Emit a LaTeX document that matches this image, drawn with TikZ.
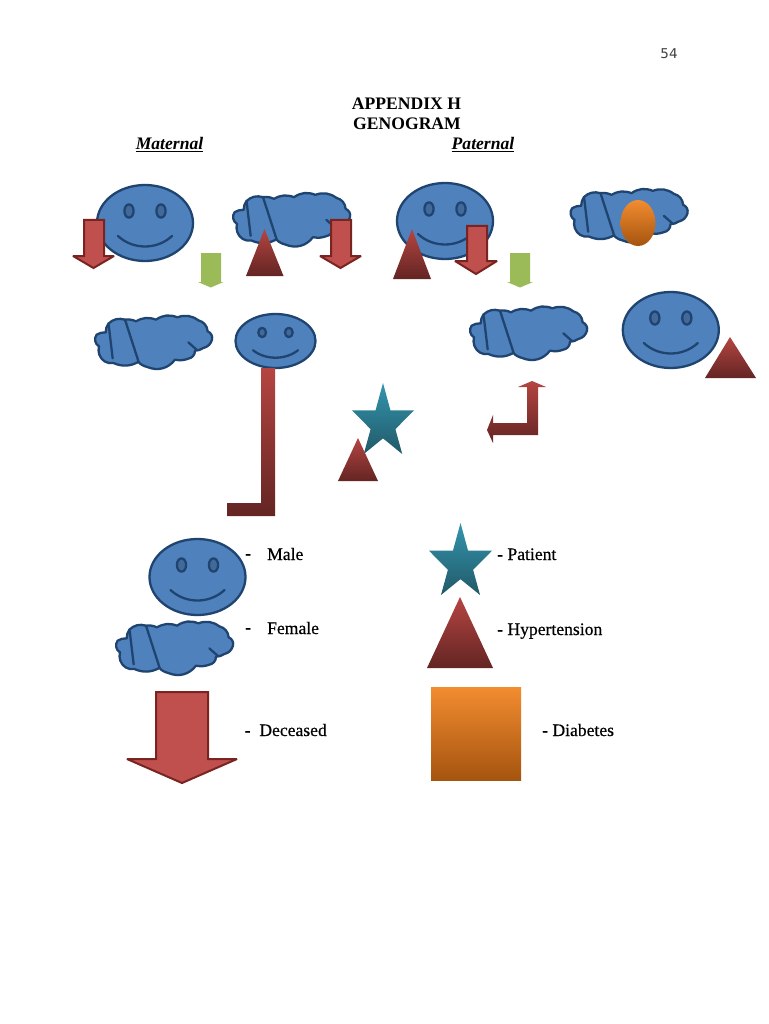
\documentclass[tikz,border=0pt]{standalone}
\usepackage{fontspec}
\setmainfont{Liberation Serif}
\newfontfamily\numfont{DejaVu Sans}
\newfontfamily\lblfont[FakeBold=0.5]{Liberation Serif}
\definecolor{faceblue}{HTML}{4F81BD}
\definecolor{edgeblue}{HTML}{1F4470}
\definecolor{eyeblue}{HTML}{41699A}
\definecolor{redfill}{HTML}{C0504D}
\definecolor{rededge}{HTML}{7A2422}
\definecolor{greenfill}{HTML}{9BBB59}
\definecolor{tritop}{HTML}{B54542}
\definecolor{tribot}{HTML}{632523}
\definecolor{startop}{HTML}{3495AE}
\definecolor{starbot}{HTML}{215968}
\definecolor{ortop}{HTML}{F28C30}
\definecolor{orbot}{HTML}{A5540F}
\tikzset{
  blueshape/.style={fill=faceblue,draw=edgeblue,line width=2.3pt,line join=round},
  blueline/.style={draw=edgeblue,line width=2.3pt,line cap=round},
  redarrow/.style={fill=redfill,draw=rededge,line width=2pt,line join=miter,miter limit=2},
  greenarrow/.style={fill=greenfill},
  tri/.style={top color=tritop,bottom color=tribot,draw=none},
  starshape/.style={top color=startop,bottom color=starbot,draw=none},
  orangeshape/.style={top color=ortop,bottom color=orbot,draw=none},
  txt/.style={font=\lblfont\fontsize{17.6}{20}\selectfont,anchor=base west,inner sep=0pt},
  title/.style={font=\bfseries\fontsize{17.6}{20}\selectfont,anchor=base,inner sep=0pt},
  side/.style={font=\bfseries\itshape\fontsize{17.6}{20}\selectfont,anchor=base,inner sep=0pt}
}
% centre x, centre y, half width, half height
\newcommand{\faceshape}[4]{%
  \begin{scope}[shift={(#1,#2)},xscale=#3/48,yscale=#4/38]
    \draw[blueshape] (0,0) ellipse [x radius=48,y radius=38];
    \draw[blueshape,fill=eyeblue] (-16,-12) ellipse [x radius=4.6,y radius=6.6];
    \draw[blueshape,fill=eyeblue] (16,-12) ellipse [x radius=4.6,y radius=6.6];
    \draw[blueline] (-27,13) .. controls (-12,27) and (12,27) .. (27,13);
  \end{scope}}
% left x, top y
\newcommand{\cloudshape}[2]{%
  \begin{scope}[shift={(#1,#2)},x=.3333pt,y=-.3333pt,shift={(-105,-430)}]
    \draw[blueshape] (145,462) to[bend left=30] (195,450) to[bend left=15] (228,455)
      to[bend left=25] (288,450) to[bend left=28] (352,443) to[bend left=28] (415,452)
      to[bend left=35] (443,485) to[bend left=40] (456,510) to[bend left=30] (430,535)
      to[bend left=15] (405,543) to[bend left=40] (385,567) to[bend left=15] (345,570)
      to[bend left=38] (262,592) to[bend left=15] (235,577) to[bend left=25] (160,580)
      to[bend left=40] (118,555) to[bend left=15] (117,530) to[bend left=50] (110,495)
      to[bend left=15] (137,488) to[bend left=15] cycle;
    \draw[blueline] (146,465) -- (158,566);
    \draw[blueline] (195,450) -- (236,577);
    \draw[blueline] (385,518) -- (412,542);
  \end{scope}}
% shaft left, shaft right, head left, head right, top, head start, tip
\newcommand{\downarrowshape}[8]{%
  \path[#8] (#1,#5) -- (#2,#5) -- (#2,#6) -- (#4,#6) -- ({(#3+#4)/2},#7) -- (#3,#6) -- (#1,#6) -- cycle;}
% apex x, apex y, base left, base right, base y
\newcommand{\trishape}[5]{%
  \path[tri] (#1,#2) -- (#4,#5) -- (#3,#5) -- cycle;}
% left, right, top, bottom
\newcommand{\starpic}[4]{%
  \begin{scope}[shift={(#1,#3)},x={(#2pt-#1pt,0)},y={(0,#3pt-#4pt)}]
    \path[starshape] (.5,0) -- (.62,.385) -- (1,.385) -- (.70,.65) -- (.81,1)
      -- (.5,.78) -- (.19,1) -- (.30,.65) -- (0,.385) -- (.38,.385) -- cycle;
  \end{scope}}
\begin{document}
\begin{tikzpicture}[x=1pt,y=-1pt]
\useasboundingbox (0,0) rectangle (768,1024);
\fill[white] (0,0) rectangle (768,1024);

\node[font=\numfont\fontsize{13.5}{16}\selectfont,anchor=base,inner sep=0pt,text=black!75] (pagenum) at (669,59) {54};
\node[title] (app) at (406.5,110) {APPENDIX H};
\node[title] (geno) at (407,130) {GENOGRAM};
\node[side] (mat) at (169.5,150) {\underline{Maternal}};
\node[side] (pat) at (483,150) {\underline{Paternal}};

% first generation
\faceshape{145}{223}{48}{38}
\downarrowshape{84}{104}{73}{114}{220}{256}{268}{redarrow}
\cloudshape{233}{190.5}
\trishape{264.5}{229}{246}{283.5}{276}
\downarrowshape{331}{351}{320}{361}{220}{256}{268}{redarrow}
\faceshape{445}{221}{48}{38}
\trishape{412}{229}{393}{431}{279}
\downarrowshape{467}{487}{455}{497}{226}{261}{274}{redarrow}
\cloudshape{570.5}{186.5}
\path[orangeshape] (638,223) ellipse [x radius=17.5,y radius=23];
\downarrowshape{201}{221}{198}{223.5}{253}{282}{287.5}{greenarrow}
\downarrowshape{510}{530}{507}{533}{253}{282}{287.5}{greenarrow}

% second generation
\cloudshape{95}{313}
\faceshape{275.5}{341}{40}{27}
\cloudshape{470}{304}
\faceshape{670.8}{330}{48}{38}
\trishape{730}{337}{705}{756}{378}

% L bar
\path[tri] (261,368) -- (275,368) -- (275,516) -- (227,516) -- (227,503) -- (261,503) -- cycle;
% bent arrow
\path[tri] (532,381) -- (546,387) -- (538,387) -- (538,435) -- (493,435) -- (493,443)
  -- (487,430) -- (493,415) -- (493,423) -- (527,423) -- (527,387) -- (518,387) -- cycle;

% patient
\starpic{352}{414}{383}{454}
\trishape{358}{438}{338}{378}{481}

% legend
\faceshape{197.5}{577}{48}{38}
\cloudshape{116}{619}
\downarrowshape{156}{208}{127}{237}{692}{759}{783}{redarrow}
\starpic{429}{492}{523}{595}
\trishape{460}{597}{427}{493}{668}
\path[orangeshape] (431,687) rectangle (521,780);

\node[txt] (d1) at (245,559) {-};
\node[txt] (male) at (267,560) {Male};
\node[txt] (d2) at (245,633) {-};
\node[txt] (female) at (267,634) {Female};
\node[txt] (deceased) at (244.5,736) {-\hspace{0.5em}Deceased};
\node[txt] (patient) at (497,560) {- Patient};
\node[txt] (hyper) at (497,635) {- Hypertension};
\node[txt] (diab) at (542,736) {- Diabetes};
\end{tikzpicture}
\end{document}
